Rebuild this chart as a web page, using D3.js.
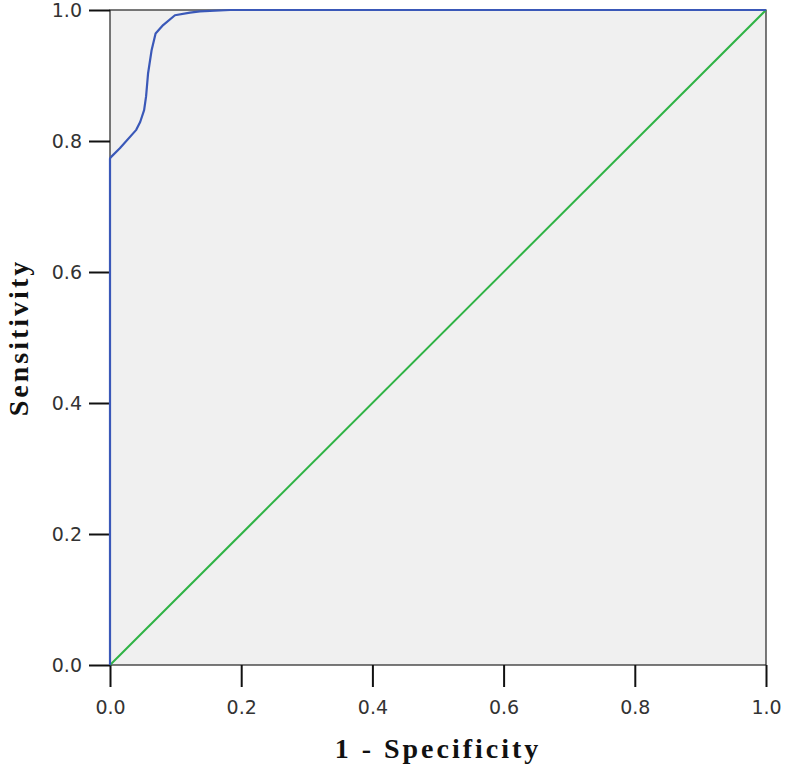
<!DOCTYPE html>
<html>
<head>
<meta charset="utf-8">
<script src="https://cdn.jsdelivr.net/npm/d3@7"></script>
<style>
  body { margin: 0; background: #fff; }
  .tick text { font-family: "DejaVu Sans", sans-serif; font-size: 19px; fill: #333; }
  .title { font-family: "Liberation Serif", "DejaVu Serif", serif; font-size: 28px; font-weight: bold; fill: #111; letter-spacing: 3px; }
</style>
</head>
<body>
<div id="chart"></div>
<script>
(function() {
    'use strict';

    // ROC curve points
    const fpr = [0, 0, 0.001, 0.015, 0.040, 0.046, 0.052, 0.055, 0.058, 0.0635, 0.0695, 0.081, 0.099, 0.122, 0.137, 0.183, 1.0];
    const tpr = [0, 0.773, 0.775, 0.789, 0.817, 0.829, 0.847, 0.868, 0.903, 0.939, 0.964, 0.977, 0.992, 0.996, 0.998, 1.0, 1.0];
    const refLine = [0, 1];
    const tickValues = [0, 0.2, 0.4, 0.6, 0.8, 1.0];

    const width = 785, height = 768;
    const margin = { left: 110, right: 19, top: 10, bottom: 103 };

    const svg = d3.select("#chart").append("svg")
        .attr("width", width)
        .attr("height", height);

    const x = d3.scaleLinear().domain([0, 1]).range([margin.left, width - margin.right]);
    const y = d3.scaleLinear().domain([0, 1]).range([height - margin.bottom, margin.top]);

    // plot background + frame
    svg.append("rect")
        .attr("x", x(0)).attr("y", y(1))
        .attr("width", x(1) - x(0)).attr("height", y(0) - y(1))
        .attr("fill", "#f0f0f0")
        .attr("stroke", "#222")
        .attr("stroke-width", 1.2);

    const fmt = d3.format(".1f");

    svg.append("g")
        .attr("transform", `translate(0,${y(0)})`)
        .call(d3.axisBottom(x).tickValues(tickValues).tickFormat(fmt).tickSize(22).tickSizeOuter(0).tickPadding(14))
        .call(g => g.select(".domain").remove())
        .call(g => g.selectAll(".tick line").attr("stroke", "#111").attr("stroke-width", 2));

    svg.append("g")
        .attr("transform", `translate(${x(0)},0)`)
        .call(d3.axisLeft(y).tickValues(tickValues).tickFormat(fmt).tickSize(21).tickSizeOuter(0).tickPadding(7))
        .call(g => g.select(".domain").remove())
        .call(g => g.selectAll(".tick line").attr("stroke", "#111").attr("stroke-width", 2));

    // reference diagonal
    svg.append("line")
        .attr("x1", x(refLine[0])).attr("y1", y(refLine[0]))
        .attr("x2", x(refLine[1])).attr("y2", y(refLine[1]))
        .attr("stroke", "#2fb345")
        .attr("stroke-width", 2);

    // ROC curve
    const line = d3.line()
        .x((d, i) => x(fpr[i]))
        .y((d, i) => y(tpr[i]));

    svg.append("path")
        .datum(fpr)
        .attr("d", line)
        .attr("fill", "none")
        .attr("stroke", "#3a58b8")
        .attr("stroke-width", 2.2)
        .attr("stroke-linejoin", "round");

    // axis titles
    svg.append("text")
        .attr("class", "title")
        .attr("x", (x(0) + x(1)) / 2)
        .attr("y", 758)
        .attr("text-anchor", "middle")
        .text("1 - Specificity");

    svg.append("text")
        .attr("class", "title")
        .attr("transform", `translate(28, ${(y(0) + y(1)) / 2}) rotate(-90)`)
        .attr("text-anchor", "middle")
        .text("Sensitivity");
})();
</script>
</body>
</html>
